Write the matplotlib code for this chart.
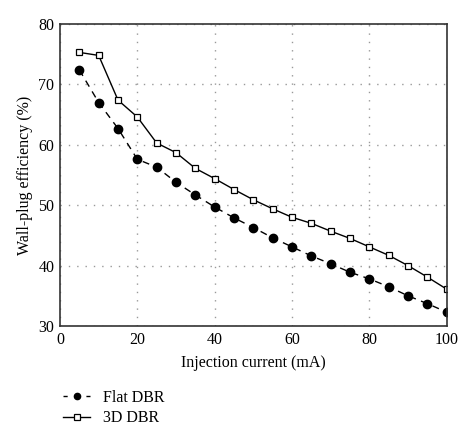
import matplotlib.pyplot as plt
from matplotlib.lines import Line2D

current = [5, 10, 15, 20, 25, 30, 35, 40, 45, 50, 55, 60, 65, 70, 75, 80, 85, 90, 95, 100]
flat_dbr = [72.4, 67.0, 62.7, 57.6, 56.3, 53.8, 51.7, 49.7, 47.9, 46.3, 44.6, 43.1,
            41.6, 40.3, 38.9, 37.8, 36.5, 35.0, 33.7, 32.3]
dbr_3d = [75.3, 74.8, 67.4, 64.6, 60.3, 58.7, 56.1, 54.4, 52.6, 50.9, 49.4, 48.0,
          47.0, 45.7, 44.5, 43.1, 41.7, 40.0, 38.1, 36.1]
labels = ['Flat DBR', '3D DBR']


def main():
    plt.rcParams['font.family'] = ['Liberation Serif', 'DejaVu Serif']

    fig = plt.figure(figsize=(4.74, 4.43), dpi=100)
    ax = fig.add_axes([0.1266, 0.2641, 0.8158, 0.6817])

    ax.plot(current, flat_dbr, color='black', linestyle=(0, (5, 4)), linewidth=1.0,
            marker='o', markersize=6, markerfacecolor='black')
    ax.plot(current, dbr_3d, color='black', linestyle='-', linewidth=1.0,
            marker='s', markersize=5, markerfacecolor='white', markeredgewidth=0.9)

    ax.set_xlim(0, 100)
    ax.set_ylim(30, 80)
    ax.set_xticks(range(0, 101, 20))
    ax.set_yticks(range(30, 81, 10))
    ax.tick_params(length=0, labelsize=11.5, pad=4)
    ax.grid(True, color='#999999', linestyle=(0, (1, 5)), linewidth=1.0)
    for s in ax.spines.values():
        s.set_color('#333333')
        s.set_linewidth(1.2)

    ax.set_xlabel('Injection current (mA)', fontsize=11.5, labelpad=5)
    ax.set_ylabel('Wall-plug efficiency (%)', fontsize=11.5, labelpad=4)

    # legend handles: short dash either side of the marker, like the original
    handles = [
        Line2D([], [], color='black', linestyle=(0, (3, 13.5)), linewidth=1.0,
               marker='o', markersize=4.5, markerfacecolor='black'),
        Line2D([], [], color='black', linestyle='-', linewidth=1.0,
               marker='s', markersize=4, markerfacecolor='white', markeredgewidth=0.9),
    ]
    fig.legend(handles, labels, loc='upper left', bbox_to_anchor=(0.12, 0.135),
               frameon=False, fontsize=11.5, handlelength=1.7, handletextpad=0.8,
               labelspacing=0.3, borderaxespad=0)

    fig.savefig('out.png', dpi=100)


if __name__ == '__main__':
    main()
